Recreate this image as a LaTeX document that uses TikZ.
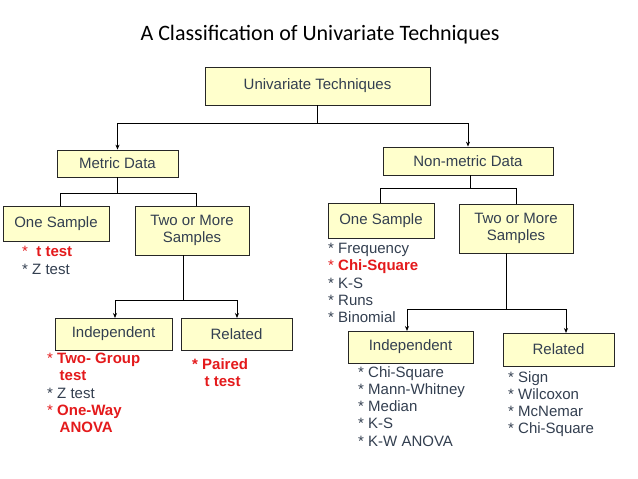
\documentclass[tikz,border=0pt]{standalone}
\usepackage{fontspec}
\setmainfont{Liberation Sans}
\newfontfamily\titlefont{Carlito}
\usetikzlibrary{arrows.meta}
\definecolor{txt}{HTML}{333F50}
\definecolor{fillc}{HTML}{FFFFCC}
\definecolor{redt}{HTML}{E41A1C}
\tikzset{
 box/.style={draw=black!85,line width=0.8pt,fill=fillc,text=txt,font=\fontsize{15}{17}\selectfont,align=center,inner sep=0pt},
 item/.style={anchor=west,text=txt,font=\fontsize{15}{17.3}\selectfont,inner sep=0pt,align=left},
 ln/.style={line width=0.8pt},
 arr/.style={ln,-{Stealth[length=5pt,width=4pt]}}
}
\begin{document}
\begin{tikzpicture}[x=1pt,y=-1pt]
\useasboundingbox[fill=white] (0,0) rectangle (638,479);
\node[font=\titlefont\fontsize{22}{26}\selectfont] (title) at (320,35) {A Classification of Univariate Techniques};
\node[box,minimum width=225,minimum height=38] (uni) at (317.5,86) {Univariate Techniques};
\node[box,minimum width=121,minimum height=27] (met) at (117.5,163.5) {Metric Data};
\node[box,minimum width=170,minimum height=28] (non) at (468,161) {Non-metric Data};
\node[box,minimum width=106,minimum height=35] (m1) at (56,223.5) {One Sample};
\node[box,minimum width=114,minimum height=49] (m2) at (192,230.5) {Two or More\\Samples};
\node[box,minimum width=106,minimum height=35] (n1) at (381,220.5) {One Sample};
\node[box,minimum width=114,minimum height=49] (n2) at (516,228.5) {Two or More\\Samples};
\node[box,minimum width=117,minimum height=32] (mi) at (113.5,334) {Independent};
\node[box,minimum width=111,minimum height=32] (mr) at (236.5,334) {Related};
\node[box,minimum width=125,minimum height=32] (ni) at (410.5,347) {Independent};
\node[box,minimum width=111,minimum height=33] (nr) at (558.5,349.5) {Related};
% connectors
\coordinate (j0) at (317.5,123);
\draw[ln] (uni.south) -- (j0);
\draw[arr] (j0) -| (met.north);
\draw[arr] (j0) -| (non.north);
\coordinate (j1) at (117.5,193);
\draw[ln] (met.south) -- (j1);
\draw[ln] (j1) -| (60,206);
\draw[ln] (j1) -| (196,206);
\coordinate (j2) at (470,188);
\draw[ln] (j2 |- non.south) -- (j2);
\draw[ln] (j2) -| (380,203);
\draw[ln] (j2) -| (516,204);
\coordinate (j3) at (183,300);
\draw[ln] (j3 |- m2.south) -- (j3);
\draw[arr] (j3) -| (115,318);
\draw[arr] (j3) -| (237,318);
\coordinate (j4) at (506,309);
\draw[ln] (j4 |- n2.south) -- (j4);
\draw[arr] (j4) -| (407,331);
\draw[arr] (j4) -| (566,333);
% items
\node[item] (a1) at (22,251) {\textcolor{redt}{* \ \textbf{t test}}};
\node[item] (a2) at (22,269) {* Z test};
\node[item,anchor=north west] (b1) at (47,353) {\textcolor{redt}{* \textbf{Two- Group}}\\\textcolor{redt}{\ \ \ \textbf{test}}\\* Z test\\\textcolor{redt}{* \textbf{One-Way}}\\\textcolor{redt}{\ \ \ \textbf{ANOVA}}};
\node[item,anchor=north west] (c1) at (192,358) {\textcolor{redt}{\textbf{* Paired}}\\\textcolor{redt}{\ \ \ \textbf{t test}}};
\node[item,anchor=north west] (d1) at (328,243) {* Frequency\\\textcolor{redt}{* \textbf{Chi-Square}}\\* K-S\\* Runs\\* Binomial};
\node[item,anchor=north west] (e1) at (358,366) {* Chi-Square\\* Mann-Whitney\\* Median\\* K-S\\* K-W ANOVA};
\node[item,anchor=north west] (f1) at (508,371) {* Sign\\* Wilcoxon\\* McNemar\\* Chi-Square};
\end{tikzpicture}
\end{document}
